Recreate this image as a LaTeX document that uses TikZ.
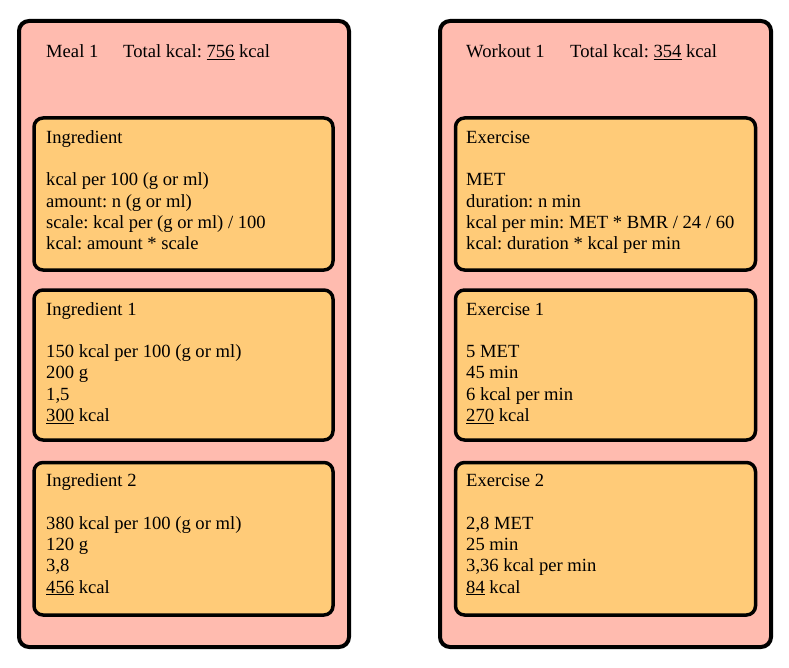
\documentclass[tikz,border=0pt]{standalone}
\usepackage{fontspec}
\setmainfont{Liberation Serif}
\frenchspacing
\definecolor{outerfill}{RGB}{255,187,175}
\definecolor{innerfill}{RGB}{255,203,120}
\begin{document}
\begin{tikzpicture}[x=1pt,y=-1pt,
  outerbox/.style={draw=black,line width=4pt,rounded corners=10pt,fill=outerfill},
  innerbox/.style={draw=black,line width=3.5pt,rounded corners=9pt,fill=innerfill},
  txt/.style={anchor=base west,inner sep=0pt,align=left,font=\fontsize{18.6}{21.3}\selectfont}]
\useasboundingbox (0,0) rectangle (789,668);
% outer panels
\draw[outerbox] (19,21) rectangle (349,647);
\draw[outerbox] (440,21) rectangle (771,647);
% inner boxes left
\draw[innerbox] (34,118) rectangle (333,270);
\draw[innerbox] (34,290) rectangle (333,440);
\draw[innerbox] (34,462.5) rectangle (333,615);
% inner boxes right
\draw[innerbox] (455.5,118) rectangle (755.5,270);
\draw[innerbox] (455.5,290) rectangle (755.5,440);
\draw[innerbox] (455.5,462.5) rectangle (755.5,615);
% titles
\node[txt] (m1) at (46,57.3) {Meal 1};
\node[txt] (m1t) at (123,57.3) {Total kcal: \underline{756} kcal};
\node[txt] (w1) at (466,57.3) {Workout 1};
\node[txt] (w1t) at (570,57.3) {Total kcal: \underline{354} kcal};
% left texts (anchored at baseline of last line)
\node[txt] (i0) at (46,249.8) {Ingredient\\[21.3pt]kcal per 100 (g or ml)\\amount: n (g or ml)\\scale: kcal per (g or ml) / 100\\kcal: amount * scale};
\node[txt] (i1) at (46,421.5) {Ingredient 1\\[21.3pt]150 kcal per 100 (g or ml)\\200 g\\1,5\\\underline{300} kcal};
\node[txt] (i2) at (46,593) {Ingredient 2\\[21.3pt]380 kcal per 100 (g or ml)\\120 g\\3,8\\\underline{456} kcal};
% right texts
\node[txt] (e0) at (466,249.8) {Exercise\\[21.3pt]MET\\duration: n min\\kcal per min: MET * BMR / 24 / 60\\kcal: duration * kcal per min};
\node[txt] (e1) at (466,421.5) {Exercise 1\\[21.3pt]5 MET\\45 min\\6 kcal per min\\\underline{270} kcal};
\node[txt] (e2) at (466,593) {Exercise 2\\[21.3pt]2,8 MET\\25 min\\3,36 kcal per min\\\underline{84} kcal};
\end{tikzpicture}
\end{document}
